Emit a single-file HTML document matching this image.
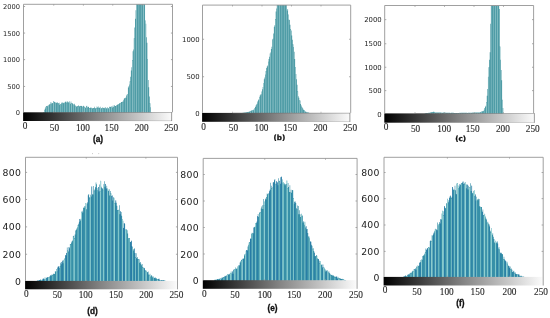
<!DOCTYPE html>
<html><head><meta charset="utf-8"><title>Histograms</title>
<style>html,body{margin:0;padding:0;background:#fff;}body{width:550px;height:318px;overflow:hidden;}svg{display:block;}</style>
</head><body>
<svg width="550" height="318" viewBox="0 0 550 318">
<defs>
<linearGradient id="g" x1="0" x2="1" y1="0" y2="0"><stop offset="0" stop-color="#000"/><stop offset="0.5" stop-color="#848484"/><stop offset="1" stop-color="#fbfbfb"/></linearGradient>
</defs>
<rect width="550" height="318" fill="#fff"/>
<clipPath id="ca"><rect x="23.5" y="4.3" width="149.0" height="109.3"/></clipPath>
<g clip-path="url(#ca)">
<path d="M43.56 113.6V112.11H44.15V110.37H44.74V108.72H45.33V107.35H45.92V105.99H46.51V105.96H47.10V106.35H47.69V105.47H48.28V105.44H48.87V104.52H49.46V104.28H50.05V103.79H50.64V102.09H51.23V103.60H51.82V103.15H52.41V103.09H53.00V101.38H53.59V101.29H54.18V101.88H54.77V102.15H55.36V102.68H55.95V102.38H56.54V102.97H57.13V102.26H57.72V103.14H58.31V103.36H58.90V102.75H59.49V104.65H60.08V103.97H60.67V104.34H61.26V102.86H61.85V102.61H62.44V102.73H63.03V102.75H63.62V103.15H64.21V102.70H64.80V102.01H65.39V101.47H65.98V101.66H66.57V102.88H67.16V101.15H67.75V102.00H68.34V102.39H68.93V101.17H69.52V102.61H70.11V103.81H70.70V101.59H71.29V103.10H71.88V103.51H72.47V103.30H73.06V104.51H73.65V104.41H74.24V103.75H74.83V105.58H75.42V105.75H76.01V106.21H76.60V106.67H77.19V106.09H77.78V106.04H78.37V105.27H78.96V106.54H79.55V105.90H80.14V106.10H80.73V105.72H81.32V106.00H81.91V106.36H82.50V107.50H83.09V105.65H83.68V106.05H84.27V107.10H84.86V107.85H85.45V107.43H86.04V106.11H86.63V105.85H87.22V107.51H87.81V106.99H88.40V106.81H88.99V107.98H89.58V108.07H90.17V107.58H90.76V107.65H91.35V107.78H91.94V108.42H92.53V107.92H93.12V107.89H93.71V107.93H94.30V106.83H94.89V108.37H95.48V108.20H96.07V107.94H96.66V106.58H97.25V107.27H97.84V108.04H98.43V106.58H99.02V107.43H99.61V108.06H100.20V106.82H100.79V108.43H101.38V107.89H101.97V107.54H102.56V107.83H103.15V108.03H103.74V107.78H104.33V108.36H104.92V107.44H105.51V107.60H106.10V108.40H106.69V107.90H107.28V107.37H107.87V108.18H108.46V108.31H109.05V107.12H109.64V106.44H110.23V106.97H110.82V106.81H111.41V106.56H112.00V107.41H112.59V105.81H113.18V107.03H113.77V105.34H114.36V105.43H114.95V106.03H115.54V106.06H116.13V105.60H116.72V104.97H117.31V104.55H117.90V104.26H118.49V104.27H119.08V103.28H119.67V103.14H120.26V102.88H120.85V101.96H121.44V102.09H122.03V101.46H122.62V102.19H123.21V100.22H123.80V98.81H124.39V98.10H124.98V97.67H125.57V97.81H126.16V95.41H126.75V94.40H127.34V94.25H127.93V87.62H128.52V86.25H129.11V84.49H129.70V81.31H130.29V76.83H130.88V70.61H131.47V67.15H132.06V60.06H132.65V51.21H133.24V49.61H133.83V38.18H134.42V27.53H135.01V18.70H135.60V10.34H136.19V1.86H136.78V-17.25H137.37V-11.29H137.96V-7.32H138.55V-13.11H139.14V-10.18H139.73V-7.47H140.32V-7.72H140.91V-6.04H141.50V-14.52H142.09V-10.94H142.68V-10.91H143.27V-8.34H143.86V-1.74H144.45V2.63H145.04V20.57H145.63V23.66H146.22V37.35H146.81V42.82H147.40V59.18H147.99V80.11H148.58V87.13H149.17V96.53H149.76V103.37H150.35V107.32H150.94V112.16H151.53V113.6Z" fill="#4f9ca6"/>
<rect x="44.15" y="110.77" width="0.6" height="3.23" fill="#b2d8dc" opacity="0.98"/>
<rect x="46.51" y="106.36" width="0.6" height="7.64" fill="#b2d8dc" opacity="0.78"/>
<rect x="48.28" y="105.84" width="0.6" height="8.16" fill="#b2d8dc" opacity="0.97"/>
<rect x="50.64" y="102.49" width="0.6" height="11.51" fill="#b2d8dc" opacity="1.00"/>
<rect x="53.00" y="101.78" width="0.6" height="12.22" fill="#b2d8dc" opacity="0.98"/>
<rect x="55.36" y="103.08" width="0.6" height="10.92" fill="#b2d8dc" opacity="0.75"/>
<rect x="57.72" y="103.54" width="0.6" height="10.46" fill="#b2d8dc" opacity="0.69"/>
<rect x="60.08" y="104.37" width="0.6" height="9.63" fill="#b2d8dc" opacity="0.69"/>
<rect x="61.85" y="103.01" width="0.6" height="10.99" fill="#b2d8dc" opacity="0.68"/>
<rect x="64.21" y="103.10" width="0.6" height="10.90" fill="#b2d8dc" opacity="0.68"/>
<rect x="66.57" y="103.28" width="0.6" height="10.72" fill="#b2d8dc" opacity="0.85"/>
<rect x="68.93" y="101.57" width="0.6" height="12.43" fill="#b2d8dc" opacity="0.96"/>
<rect x="71.29" y="103.50" width="0.6" height="10.50" fill="#b2d8dc" opacity="0.94"/>
<rect x="73.06" y="104.91" width="0.6" height="9.09" fill="#b2d8dc" opacity="0.79"/>
<rect x="75.42" y="106.15" width="0.6" height="7.85" fill="#b2d8dc" opacity="0.86"/>
<rect x="77.78" y="106.44" width="0.6" height="7.56" fill="#b2d8dc" opacity="0.92"/>
<rect x="80.14" y="106.50" width="0.6" height="7.50" fill="#b2d8dc" opacity="0.63"/>
<rect x="82.50" y="107.90" width="0.6" height="6.10" fill="#b2d8dc" opacity="0.86"/>
<rect x="84.27" y="107.50" width="0.6" height="6.50" fill="#b2d8dc" opacity="0.96"/>
<rect x="86.63" y="106.25" width="0.6" height="7.75" fill="#b2d8dc" opacity="0.91"/>
<rect x="88.99" y="108.38" width="0.6" height="5.62" fill="#b2d8dc" opacity="0.90"/>
<rect x="91.35" y="108.18" width="0.6" height="5.82" fill="#b2d8dc" opacity="0.79"/>
<rect x="93.71" y="108.33" width="0.6" height="5.67" fill="#b2d8dc" opacity="0.67"/>
<rect x="96.07" y="108.34" width="0.6" height="5.66" fill="#b2d8dc" opacity="0.92"/>
<rect x="97.84" y="108.44" width="0.6" height="5.56" fill="#b2d8dc" opacity="0.73"/>
<rect x="100.20" y="107.22" width="0.6" height="6.78" fill="#b2d8dc" opacity="0.92"/>
<rect x="102.56" y="108.23" width="0.6" height="5.77" fill="#b2d8dc" opacity="0.99"/>
<rect x="104.92" y="107.84" width="0.6" height="6.16" fill="#b2d8dc" opacity="0.76"/>
<rect x="107.28" y="107.77" width="0.6" height="6.23" fill="#b2d8dc" opacity="0.76"/>
<rect x="109.05" y="107.52" width="0.6" height="6.48" fill="#b2d8dc" opacity="0.98"/>
<rect x="111.41" y="106.96" width="0.6" height="7.04" fill="#b2d8dc" opacity="0.89"/>
<rect x="113.77" y="105.74" width="0.6" height="8.26" fill="#b2d8dc" opacity="0.67"/>
<rect x="116.13" y="106.00" width="0.6" height="8.00" fill="#b2d8dc" opacity="0.65"/>
<rect x="118.49" y="104.67" width="0.6" height="9.33" fill="#b2d8dc" opacity="0.66"/>
<rect x="120.26" y="103.28" width="0.6" height="10.72" fill="#b2d8dc" opacity="0.96"/>
<rect x="122.62" y="102.59" width="0.6" height="11.41" fill="#b2d8dc" opacity="0.92"/>
<rect x="124.98" y="98.07" width="0.6" height="15.93" fill="#b2d8dc" opacity="0.66"/>
<rect x="127.34" y="94.65" width="0.6" height="19.35" fill="#b2d8dc" opacity="0.93"/>
<rect x="129.70" y="81.71" width="0.6" height="32.29" fill="#b2d8dc" opacity="0.99"/>
<rect x="132.06" y="60.46" width="0.6" height="53.54" fill="#b2d8dc" opacity="0.86"/>
<rect x="133.83" y="38.58" width="0.6" height="75.42" fill="#b2d8dc" opacity="0.74"/>
<rect x="136.19" y="2.26" width="0.6" height="111.74" fill="#b2d8dc" opacity="0.82"/>
<rect x="138.55" y="-12.71" width="0.6" height="126.71" fill="#b2d8dc" opacity="0.65"/>
<rect x="140.91" y="-5.64" width="0.6" height="119.64" fill="#b2d8dc" opacity="0.61"/>
<rect x="143.27" y="-7.94" width="0.6" height="121.94" fill="#b2d8dc" opacity="0.99"/>
<rect x="145.04" y="20.97" width="0.6" height="93.03" fill="#b2d8dc" opacity="0.86"/>
<rect x="147.40" y="59.58" width="0.6" height="54.42" fill="#b2d8dc" opacity="0.81"/>
<rect x="149.76" y="103.77" width="0.6" height="10.23" fill="#b2d8dc" opacity="0.97"/>
</g>
<rect x="23.1" y="112.3" width="148.9" height="8.7" fill="url(#g)"/><rect x="53.5" y="112.2" width="118.5" height="0.7" fill="#666" opacity="0.6"/><rect x="83.5" y="120.5" width="88.5" height="0.6" fill="#999" opacity="0.6"/><rect x="171.3" y="112.3" width="0.8" height="8.7" fill="#666" opacity="0.8"/>
<path d="M23.5 112.3V4.3H172.5V112.3" fill="none" stroke="#959595" stroke-width="0.9"/>
<rect x="53.40" y="4.3" width="0.8" height="1.3" fill="#959595"/>
<rect x="53.40" y="111.1" width="0.8" height="1.3" fill="#959595" opacity="0.7"/>
<rect x="82.90" y="4.3" width="0.8" height="1.3" fill="#959595"/>
<rect x="82.90" y="111.1" width="0.8" height="1.3" fill="#959595" opacity="0.7"/>
<rect x="112.40" y="4.3" width="0.8" height="1.3" fill="#959595"/>
<rect x="112.40" y="111.1" width="0.8" height="1.3" fill="#959595" opacity="0.7"/>
<rect x="141.90" y="4.3" width="0.8" height="1.3" fill="#959595"/>
<rect x="141.90" y="111.1" width="0.8" height="1.3" fill="#959595" opacity="0.7"/>
<rect x="23.5" y="85.95" width="1.6" height="0.8" fill="#959595"/>
<rect x="170.9" y="85.95" width="1.6" height="0.8" fill="#959595"/>
<rect x="23.5" y="59.30" width="1.6" height="0.8" fill="#959595"/>
<rect x="170.9" y="59.30" width="1.6" height="0.8" fill="#959595"/>
<rect x="23.5" y="32.65" width="1.6" height="0.8" fill="#959595"/>
<rect x="170.9" y="32.65" width="1.6" height="0.8" fill="#959595"/>
<rect x="23.5" y="6.00" width="1.6" height="0.8" fill="#959595"/>
<rect x="170.9" y="6.00" width="1.6" height="0.8" fill="#959595"/>
<text x="20" y="9.34" text-anchor="end" font-family="'DejaVu Sans', sans-serif" font-size="6.7" fill="#222">2000</text>
<text x="20" y="35.84" text-anchor="end" font-family="'DejaVu Sans', sans-serif" font-size="6.7" fill="#222">1500</text>
<text x="20" y="61.94" text-anchor="end" font-family="'DejaVu Sans', sans-serif" font-size="6.7" fill="#222">1000</text>
<text x="20" y="88.94" text-anchor="end" font-family="'DejaVu Sans', sans-serif" font-size="6.7" fill="#222">500</text>
<text x="20" y="115.34" text-anchor="end" font-family="'DejaVu Sans', sans-serif" font-size="6.7" fill="#222">0</text>
<text x="25" y="129.14" text-anchor="middle" font-family="'Liberation Serif', serif" font-size="9.3" fill="#2a2a2a" stroke="#2a2a2a" stroke-width="0.12">0</text>
<text x="54.5" y="130.54" text-anchor="middle" font-family="'Liberation Serif', serif" font-size="9.3" fill="#2a2a2a" stroke="#2a2a2a" stroke-width="0.12">50</text>
<text x="82.9" y="130.54" text-anchor="middle" font-family="'Liberation Serif', serif" font-size="9.3" fill="#2a2a2a" stroke="#2a2a2a" stroke-width="0.12">100</text>
<text x="111.6" y="130.54" text-anchor="middle" font-family="'Liberation Serif', serif" font-size="9.3" fill="#2a2a2a" stroke="#2a2a2a" stroke-width="0.12">150</text>
<text x="141.7" y="130.54" text-anchor="middle" font-family="'Liberation Serif', serif" font-size="9.3" fill="#2a2a2a" stroke="#2a2a2a" stroke-width="0.12">200</text>
<text x="171.2" y="130.54" text-anchor="middle" font-family="'Liberation Serif', serif" font-size="9.3" fill="#2a2a2a" stroke="#2a2a2a" stroke-width="0.12">250</text>
<text x="98.0" y="142.09" text-anchor="middle" font-family="'Liberation Sans', sans-serif" font-weight="bold" font-size="8.3" fill="#111" stroke="#111" stroke-width="0.3">(a)</text>
<clipPath id="cb"><rect x="202.5" y="5.1" width="148.2" height="109.10000000000001"/></clipPath>
<g clip-path="url(#cb)">
<path d="M242.03 114.2V112.90H242.62V112.66H243.21V112.79H243.80V112.63H244.39V112.41H244.98V112.38H245.57V112.38H246.16V112.17H246.75V112.25H247.34V111.89H247.93V111.89H248.52V111.80H249.11V111.66H249.70V111.04H250.29V111.17H250.88V110.40H251.47V110.38H252.06V109.99H252.65V110.52H253.24V109.78H253.83V109.35H254.42V108.11H255.01V106.98H255.60V105.58H256.19V104.61H256.78V103.76H257.37V101.43H257.96V100.16H258.55V99.18H259.14V97.29H259.73V95.43H260.32V94.58H260.91V94.34H261.50V91.38H262.09V89.28H262.68V86.88H263.27V83.22H263.86V79.36H264.45V77.58H265.04V74.58H265.63V70.92H266.22V68.07H266.81V66.45H267.40V65.52H267.99V61.66H268.58V58.91H269.17V56.63H269.76V53.41H270.35V52.53H270.94V48.95H271.53V46.84H272.12V39.62H272.71V38.77H273.30V33.41H273.89V26.80H274.48V25.33H275.07V19.08H275.66V11.44H276.25V8.38H276.84V4.92H277.43V-4.62H278.02V-3.81H278.61V-3.86H279.20V-3.99H279.79V-4.50H280.38V-2.97H280.97V-4.00H281.56V-4.31H282.15V-8.17H282.74V-3.64H283.33V-3.01H283.92V-5.45H284.51V-5.71H285.10V-2.05H285.69V-5.80H286.28V3.44H286.87V10.52H287.46V8.99H288.05V14.55H288.64V19.45H289.23V20.00H289.82V24.75H290.41V29.03H291.00V30.56H291.59V35.44H292.18V39.75H292.77V44.22H293.36V47.06H293.95V51.76H294.54V58.99H295.13V66.91H295.72V73.94H296.31V79.13H296.90V84.77H297.49V91.29H298.08V96.17H298.67V97.82H299.26V100.13H299.85V100.59H300.44V104.05H301.03V105.62H301.62V107.17H302.21V107.84H302.80V108.82H303.39V110.10H303.98V110.01H304.57V111.15H305.16V111.46H305.75V111.76H306.34V112.32H306.93V112.53H307.52V112.29H308.11V112.56H308.70V112.82H309.29V112.90H309.88V114.2Z" fill="#4f9ca6"/>
<rect x="243.21" y="113.19" width="0.6" height="1.41" fill="#b2d8dc" opacity="0.88"/>
<rect x="245.57" y="112.78" width="0.6" height="1.82" fill="#b2d8dc" opacity="0.77"/>
<rect x="247.93" y="112.29" width="0.6" height="2.31" fill="#b2d8dc" opacity="0.63"/>
<rect x="250.29" y="111.57" width="0.6" height="3.03" fill="#b2d8dc" opacity="0.98"/>
<rect x="252.06" y="110.39" width="0.6" height="4.21" fill="#b2d8dc" opacity="0.85"/>
<rect x="254.42" y="108.51" width="0.6" height="6.09" fill="#b2d8dc" opacity="0.92"/>
<rect x="256.78" y="104.16" width="0.6" height="10.44" fill="#b2d8dc" opacity="0.63"/>
<rect x="259.14" y="97.69" width="0.6" height="16.91" fill="#b2d8dc" opacity="0.94"/>
<rect x="261.50" y="91.78" width="0.6" height="22.82" fill="#b2d8dc" opacity="0.63"/>
<rect x="263.27" y="83.62" width="0.6" height="30.98" fill="#b2d8dc" opacity="0.95"/>
<rect x="265.63" y="71.32" width="0.6" height="43.28" fill="#b2d8dc" opacity="0.78"/>
<rect x="267.99" y="62.06" width="0.6" height="52.54" fill="#b2d8dc" opacity="0.74"/>
<rect x="270.35" y="52.93" width="0.6" height="61.67" fill="#b2d8dc" opacity="0.82"/>
<rect x="272.71" y="39.17" width="0.6" height="75.43" fill="#b2d8dc" opacity="0.97"/>
<rect x="275.07" y="19.48" width="0.6" height="95.12" fill="#b2d8dc" opacity="0.71"/>
<rect x="276.84" y="5.32" width="0.6" height="109.28" fill="#b2d8dc" opacity="0.65"/>
<rect x="279.20" y="-3.59" width="0.6" height="118.19" fill="#b2d8dc" opacity="0.81"/>
<rect x="281.56" y="-3.91" width="0.6" height="118.51" fill="#b2d8dc" opacity="0.70"/>
<rect x="283.92" y="-5.05" width="0.6" height="119.65" fill="#b2d8dc" opacity="0.64"/>
<rect x="286.28" y="3.84" width="0.6" height="110.76" fill="#b2d8dc" opacity="0.66"/>
<rect x="288.05" y="14.95" width="0.6" height="99.65" fill="#b2d8dc" opacity="0.62"/>
<rect x="290.41" y="29.43" width="0.6" height="85.17" fill="#b2d8dc" opacity="0.68"/>
<rect x="292.77" y="44.62" width="0.6" height="69.98" fill="#b2d8dc" opacity="0.72"/>
<rect x="295.13" y="67.31" width="0.6" height="47.29" fill="#b2d8dc" opacity="0.72"/>
<rect x="297.49" y="91.69" width="0.6" height="22.91" fill="#b2d8dc" opacity="0.90"/>
<rect x="299.26" y="100.53" width="0.6" height="14.07" fill="#b2d8dc" opacity="0.72"/>
<rect x="301.62" y="107.57" width="0.6" height="7.03" fill="#b2d8dc" opacity="0.80"/>
<rect x="303.98" y="110.41" width="0.6" height="4.19" fill="#b2d8dc" opacity="0.67"/>
<rect x="306.34" y="112.72" width="0.6" height="1.88" fill="#b2d8dc" opacity="0.74"/>
<rect x="308.70" y="113.22" width="0.6" height="1.38" fill="#b2d8dc" opacity="0.61"/>
</g>
<rect x="202.1" y="112.9" width="148.1" height="8.9" fill="url(#g)"/><rect x="232.5" y="112.80000000000001" width="117.69999999999999" height="0.7" fill="#666" opacity="0.6"/><rect x="262.5" y="121.30000000000001" width="87.69999999999999" height="0.6" fill="#999" opacity="0.6"/><rect x="349.5" y="112.9" width="0.8" height="8.9" fill="#666" opacity="0.8"/>
<path d="M202.5 112.9V5.1H350.7V112.9" fill="none" stroke="#959595" stroke-width="0.9"/>
<rect x="232.10" y="5.1" width="0.8" height="1.3" fill="#959595"/>
<rect x="232.10" y="111.7" width="0.8" height="1.3" fill="#959595" opacity="0.7"/>
<rect x="261.60" y="5.1" width="0.8" height="1.3" fill="#959595"/>
<rect x="261.60" y="111.7" width="0.8" height="1.3" fill="#959595" opacity="0.7"/>
<rect x="291.10" y="5.1" width="0.8" height="1.3" fill="#959595"/>
<rect x="291.10" y="111.7" width="0.8" height="1.3" fill="#959595" opacity="0.7"/>
<rect x="320.60" y="5.1" width="0.8" height="1.3" fill="#959595"/>
<rect x="320.60" y="111.7" width="0.8" height="1.3" fill="#959595" opacity="0.7"/>
<rect x="202.5" y="38.80" width="1.6" height="0.8" fill="#959595"/>
<rect x="349.09999999999997" y="38.80" width="1.6" height="0.8" fill="#959595"/>
<rect x="202.5" y="76.40" width="1.6" height="0.8" fill="#959595"/>
<rect x="349.09999999999997" y="76.40" width="1.6" height="0.8" fill="#959595"/>
<text x="199.6" y="41.72" text-anchor="end" font-family="'DejaVu Sans', sans-serif" font-size="6.9" fill="#222">1000</text>
<text x="199.6" y="79.32" text-anchor="end" font-family="'DejaVu Sans', sans-serif" font-size="6.9" fill="#222">500</text>
<text x="199.6" y="116.32" text-anchor="end" font-family="'DejaVu Sans', sans-serif" font-size="6.9" fill="#222">0</text>
<text x="203.7" y="129.54" text-anchor="middle" font-family="'Liberation Serif', serif" font-size="9.3" fill="#2a2a2a" stroke="#2a2a2a" stroke-width="0.12">0</text>
<text x="233.4" y="130.94" text-anchor="middle" font-family="'Liberation Serif', serif" font-size="9.3" fill="#2a2a2a" stroke="#2a2a2a" stroke-width="0.12">50</text>
<text x="261.5" y="130.94" text-anchor="middle" font-family="'Liberation Serif', serif" font-size="9.3" fill="#2a2a2a" stroke="#2a2a2a" stroke-width="0.12">100</text>
<text x="290.2" y="130.94" text-anchor="middle" font-family="'Liberation Serif', serif" font-size="9.3" fill="#2a2a2a" stroke="#2a2a2a" stroke-width="0.12">150</text>
<text x="320.4" y="130.94" text-anchor="middle" font-family="'Liberation Serif', serif" font-size="9.3" fill="#2a2a2a" stroke="#2a2a2a" stroke-width="0.12">200</text>
<text x="350.2" y="130.94" text-anchor="middle" font-family="'Liberation Serif', serif" font-size="9.3" fill="#2a2a2a" stroke="#2a2a2a" stroke-width="0.12">250</text>
<text x="279.4" y="139.86" text-anchor="middle" font-family="'DejaVu Sans', sans-serif" font-weight="bold" font-size="7.2" fill="#111" stroke="#111" stroke-width="0.3">(b)</text>
<clipPath id="cc"><rect x="384.7" y="5.5" width="148.90000000000003" height="109.0"/></clipPath>
<g clip-path="url(#cc)">
<path d="M424.82 114.5V113.20H425.41V113.20H426.00V113.11H426.59V112.98H427.18V112.97H427.77V112.92H428.36V112.81H428.95V112.70H429.54V112.65H430.13V112.43H430.72V112.21H431.31V112.18H431.90V111.95H432.49V111.91H433.08V111.80H433.67V111.83H434.26V112.09H434.85V112.40H435.44V112.41H436.03V112.42H436.62V112.46H437.21V112.55H437.80V112.55H438.39V112.54H438.98V112.62H439.57V112.58H440.16V112.55H440.75V112.59H441.34V112.66H441.93V112.63H442.52V112.63H443.11V112.52H443.70V112.58H444.29V112.64H444.88V112.59H445.47V112.68H446.06V112.67H446.65V112.71H447.24V112.66H447.83V112.83H448.42V112.78H449.01V112.72H449.60V112.75H450.19V112.90H450.78V112.76H451.37V112.84H451.96V112.87H452.55V112.84H453.14V112.80H453.73V112.88H454.32V112.91H454.91V112.95H455.50V112.93H456.09V112.89H456.68V112.93H457.27V112.91H457.86V112.89H458.45V112.88H459.04V112.86H459.63V112.90H460.22V112.81H460.81V112.83H461.40V112.86H461.99V112.78H462.58V112.83H463.17V112.75H463.76V112.81H464.35V112.86H464.94V112.86H465.53V112.83H466.12V112.81H466.71V112.75H467.30V112.91H467.89V112.84H468.48V112.86H469.07V112.76H469.66V112.79H470.25V112.68H470.84V112.78H471.43V112.76H472.02V112.58H472.61V112.65H473.20V112.66H473.79V112.50H474.38V112.46H474.97V112.47H475.56V112.47H476.15V112.39H476.74V112.45H477.33V112.43H477.92V112.43H478.51V112.40H479.10V112.43H479.69V112.38H480.28V111.99H480.87V111.83H481.46V111.56H482.05V111.34H482.64V111.20H483.23V110.94H483.82V109.69H484.41V108.11H485.00V106.82H485.59V105.70H486.18V102.01H486.77V95.65H487.36V88.88H487.95V76.82H488.54V67.35H489.13V59.84H489.72V52.27H490.31V23.87H490.90V-20.12H491.49V-21.89H492.08V-20.68H492.67V-19.97H493.26V-21.04H493.85V-19.86H494.44V-19.90H495.03V-20.95H495.62V-20.17H496.21V-20.22H496.80V-19.68H497.39V-19.58H497.98V-20.03H498.57V-20.59H499.16V8.91H499.75V46.47H500.34V59.77H500.93V69.97H501.52V80.25H502.11V99.77H502.70V107.88H503.29V114.5Z" fill="#4f9ca6"/>
<rect x="425.41" y="113.60" width="0.6" height="1.30" fill="#b2d8dc" opacity="0.81"/>
<rect x="427.77" y="113.32" width="0.6" height="1.58" fill="#b2d8dc" opacity="0.79"/>
<rect x="430.13" y="112.83" width="0.6" height="2.07" fill="#b2d8dc" opacity="0.79"/>
<rect x="432.49" y="112.31" width="0.6" height="2.59" fill="#b2d8dc" opacity="0.65"/>
<rect x="434.26" y="112.49" width="0.6" height="2.41" fill="#b2d8dc" opacity="0.96"/>
<rect x="436.62" y="112.86" width="0.6" height="2.04" fill="#b2d8dc" opacity="0.68"/>
<rect x="438.98" y="113.02" width="0.6" height="1.88" fill="#b2d8dc" opacity="0.99"/>
<rect x="441.34" y="113.06" width="0.6" height="1.84" fill="#b2d8dc" opacity="0.97"/>
<rect x="443.70" y="112.98" width="0.6" height="1.92" fill="#b2d8dc" opacity="0.61"/>
<rect x="445.47" y="113.08" width="0.6" height="1.82" fill="#b2d8dc" opacity="0.78"/>
<rect x="447.83" y="113.23" width="0.6" height="1.67" fill="#b2d8dc" opacity="0.93"/>
<rect x="450.19" y="113.30" width="0.6" height="1.60" fill="#b2d8dc" opacity="0.99"/>
<rect x="452.55" y="113.24" width="0.6" height="1.66" fill="#b2d8dc" opacity="0.78"/>
<rect x="454.91" y="113.35" width="0.6" height="1.55" fill="#b2d8dc" opacity="0.71"/>
<rect x="457.27" y="113.31" width="0.6" height="1.59" fill="#b2d8dc" opacity="0.68"/>
<rect x="459.04" y="113.26" width="0.6" height="1.64" fill="#b2d8dc" opacity="0.98"/>
<rect x="461.40" y="113.26" width="0.6" height="1.64" fill="#b2d8dc" opacity="0.68"/>
<rect x="463.76" y="113.21" width="0.6" height="1.69" fill="#b2d8dc" opacity="0.83"/>
<rect x="466.12" y="113.21" width="0.6" height="1.69" fill="#b2d8dc" opacity="0.66"/>
<rect x="468.48" y="113.26" width="0.6" height="1.64" fill="#b2d8dc" opacity="0.81"/>
<rect x="470.25" y="113.08" width="0.6" height="1.82" fill="#b2d8dc" opacity="0.98"/>
<rect x="472.61" y="113.05" width="0.6" height="1.85" fill="#b2d8dc" opacity="0.65"/>
<rect x="474.97" y="112.87" width="0.6" height="2.03" fill="#b2d8dc" opacity="0.93"/>
<rect x="477.33" y="112.83" width="0.6" height="2.07" fill="#b2d8dc" opacity="0.80"/>
<rect x="479.69" y="112.78" width="0.6" height="2.12" fill="#b2d8dc" opacity="0.95"/>
<rect x="481.46" y="111.96" width="0.6" height="2.94" fill="#b2d8dc" opacity="0.88"/>
<rect x="483.82" y="110.09" width="0.6" height="4.81" fill="#b2d8dc" opacity="0.69"/>
<rect x="486.18" y="102.41" width="0.6" height="12.49" fill="#b2d8dc" opacity="0.96"/>
<rect x="488.54" y="67.75" width="0.6" height="47.15" fill="#b2d8dc" opacity="0.79"/>
<rect x="490.90" y="-19.72" width="0.6" height="134.62" fill="#b2d8dc" opacity="0.61"/>
<rect x="493.26" y="-20.64" width="0.6" height="135.54" fill="#b2d8dc" opacity="0.60"/>
<rect x="495.03" y="-20.55" width="0.6" height="135.45" fill="#b2d8dc" opacity="0.80"/>
<rect x="497.39" y="-19.18" width="0.6" height="134.08" fill="#b2d8dc" opacity="0.78"/>
<rect x="499.75" y="46.87" width="0.6" height="68.03" fill="#b2d8dc" opacity="0.72"/>
<rect x="502.11" y="100.17" width="0.6" height="14.73" fill="#b2d8dc" opacity="0.66"/>
</g>
<rect x="384.3" y="113.4" width="150.30000000000004" height="9.3" fill="url(#g)"/><rect x="414.7" y="113.30000000000001" width="119.90000000000003" height="0.7" fill="#666" opacity="0.6"/><rect x="444.7" y="122.2" width="89.90000000000003" height="0.6" fill="#999" opacity="0.6"/><rect x="533.9" y="113.4" width="0.8" height="9.3" fill="#666" opacity="0.8"/>
<path d="M384.7 113.2V5.5H533.6V113.2" fill="none" stroke="#959595" stroke-width="0.9"/>
<rect x="414.60" y="5.5" width="0.8" height="1.3" fill="#959595"/>
<rect x="414.60" y="112.0" width="0.8" height="1.3" fill="#959595" opacity="0.7"/>
<rect x="444.10" y="5.5" width="0.8" height="1.3" fill="#959595"/>
<rect x="444.10" y="112.0" width="0.8" height="1.3" fill="#959595" opacity="0.7"/>
<rect x="473.60" y="5.5" width="0.8" height="1.3" fill="#959595"/>
<rect x="473.60" y="112.0" width="0.8" height="1.3" fill="#959595" opacity="0.7"/>
<rect x="503.10" y="5.5" width="0.8" height="1.3" fill="#959595"/>
<rect x="503.10" y="112.0" width="0.8" height="1.3" fill="#959595" opacity="0.7"/>
<rect x="384.7" y="19.30" width="1.6" height="0.8" fill="#959595"/>
<rect x="532.0" y="19.30" width="1.6" height="0.8" fill="#959595"/>
<rect x="384.7" y="43.40" width="1.6" height="0.8" fill="#959595"/>
<rect x="532.0" y="43.40" width="1.6" height="0.8" fill="#959595"/>
<rect x="384.7" y="66.80" width="1.6" height="0.8" fill="#959595"/>
<rect x="532.0" y="66.80" width="1.6" height="0.8" fill="#959595"/>
<rect x="384.7" y="90.30" width="1.6" height="0.8" fill="#959595"/>
<rect x="532.0" y="90.30" width="1.6" height="0.8" fill="#959595"/>
<text x="381.7" y="22.22" text-anchor="end" font-family="'DejaVu Sans', sans-serif" font-size="6.9" fill="#222">2000</text>
<text x="381.7" y="46.32" text-anchor="end" font-family="'DejaVu Sans', sans-serif" font-size="6.9" fill="#222">1500</text>
<text x="381.7" y="69.72" text-anchor="end" font-family="'DejaVu Sans', sans-serif" font-size="6.9" fill="#222">1000</text>
<text x="381.7" y="93.22" text-anchor="end" font-family="'DejaVu Sans', sans-serif" font-size="6.9" fill="#222">500</text>
<text x="381.7" y="116.82" text-anchor="end" font-family="'DejaVu Sans', sans-serif" font-size="6.9" fill="#222">0</text>
<text x="386" y="130.34" text-anchor="middle" font-family="'Liberation Serif', serif" font-size="9.3" fill="#2a2a2a" stroke="#2a2a2a" stroke-width="0.12">0</text>
<text x="415.6" y="131.64" text-anchor="middle" font-family="'Liberation Serif', serif" font-size="9.3" fill="#2a2a2a" stroke="#2a2a2a" stroke-width="0.12">50</text>
<text x="444.2" y="131.64" text-anchor="middle" font-family="'Liberation Serif', serif" font-size="9.3" fill="#2a2a2a" stroke="#2a2a2a" stroke-width="0.12">100</text>
<text x="472.7" y="131.64" text-anchor="middle" font-family="'Liberation Serif', serif" font-size="9.3" fill="#2a2a2a" stroke="#2a2a2a" stroke-width="0.12">150</text>
<text x="502.9" y="131.64" text-anchor="middle" font-family="'Liberation Serif', serif" font-size="9.3" fill="#2a2a2a" stroke="#2a2a2a" stroke-width="0.12">200</text>
<text x="532.8" y="131.64" text-anchor="middle" font-family="'Liberation Serif', serif" font-size="9.3" fill="#2a2a2a" stroke="#2a2a2a" stroke-width="0.12">250</text>
<text x="460.7" y="140.76" text-anchor="middle" font-family="'DejaVu Sans', sans-serif" font-weight="bold" font-size="7.2" fill="#111" stroke="#111" stroke-width="0.3">(c)</text>
<clipPath id="cd"><rect x="25.5" y="157.3" width="152.0" height="124.89999999999998"/></clipPath>
<g clip-path="url(#cd)">
<path d="M36.90 282.2V280.47H37.50V280.43H38.10V280.63H38.70V280.35H39.30V280.22H39.90V280.11H40.50V279.36H41.10V280.40H41.70V280.24H42.30V279.32H42.90V278.50H43.50V279.04H44.10V279.34H44.70V277.39H45.30V279.56H45.90V277.80H46.50V277.67H47.10V277.24H47.70V277.52H48.30V277.25H48.90V276.72H49.50V276.52H50.10V275.37H50.70V275.91H51.30V274.75H51.90V274.40H52.50V274.91H53.10V273.74H53.70V273.64H54.30V274.02H54.90V271.16H55.50V271.50H56.10V269.07H56.70V271.61H57.30V267.59H57.90V266.45H58.50V266.70H59.10V268.09H59.70V266.04H60.30V262.65H60.90V264.18H61.50V261.93H62.10V260.68H62.70V263.32H63.30V260.26H63.90V259.27H64.50V258.14H65.10V255.08H65.70V255.55H66.30V252.92H66.90V247.60H67.50V250.38H68.10V251.53H68.70V247.05H69.30V248.35H69.90V243.96H70.50V243.96H71.10V242.43H71.70V241.30H72.30V240.50H72.90V235.82H73.50V236.27H74.10V238.12H74.70V234.45H75.30V230.55H75.90V229.83H76.50V228.38H77.10V227.33H77.70V225.10H78.30V223.76H78.90V221.64H79.50V218.96H80.10V220.51H80.70V218.87H81.30V211.76H81.90V210.66H82.50V212.55H83.10V207.38H83.70V207.90H84.30V206.34H84.90V206.17H85.50V202.89H86.10V209.33H86.70V203.57H87.30V202.36H87.90V195.37H88.50V193.98H89.10V197.17H89.70V197.76H90.30V194.71H90.90V196.48H91.50V186.49H92.10V194.31H92.70V194.52H93.30V186.01H93.90V190.63H94.50V189.43H95.10V187.32H95.70V182.59H96.30V184.26H96.90V188.21H97.50V190.10H98.10V187.06H98.70V191.60H99.30V184.42H99.90V191.32H100.50V180.68H101.10V186.65H101.70V188.02H102.30V188.68H102.90V189.69H103.50V184.27H104.10V181.18H104.70V186.85H105.30V183.92H105.90V188.59H106.50V185.70H107.10V188.54H107.70V189.62H108.30V190.92H108.90V189.25H109.50V195.43H110.10V190.90H110.70V193.20H111.30V195.93H111.90V195.55H112.50V200.42H113.10V197.32H113.70V197.66H114.30V202.95H114.90V202.66H115.50V200.38H116.10V202.66H116.70V205.86H117.30V210.04H117.90V210.23H118.50V209.75H119.10V205.17H119.70V214.13H120.30V211.17H120.90V211.94H121.50V215.70H122.10V219.24H122.70V220.71H123.30V227.90H123.90V223.35H124.50V223.75H125.10V229.65H125.70V229.16H126.30V229.48H126.90V230.21H127.50V233.59H128.10V238.25H128.70V238.17H129.30V237.91H129.90V241.75H130.50V242.00H131.10V240.79H131.70V245.94H132.30V247.13H132.90V250.44H133.50V248.89H134.10V248.51H134.70V252.93H135.30V257.01H135.90V253.34H136.50V258.17H137.10V257.00H137.70V259.05H138.30V259.30H138.90V259.24H139.50V262.87H140.10V262.04H140.70V263.82H141.30V265.23H141.90V263.91H142.50V267.12H143.10V267.73H143.70V267.80H144.30V268.22H144.90V269.96H145.50V270.78H146.10V270.87H146.70V271.91H147.30V272.34H147.90V271.43H148.50V274.48H149.10V274.88H149.70V273.63H150.30V276.61H150.90V275.36H151.50V275.61H152.10V276.58H152.70V277.55H153.30V276.57H153.90V278.12H154.50V277.77H155.10V277.54H155.70V278.52H156.30V278.30H156.90V278.93H157.50V279.26H158.10V279.12H158.70V278.72H159.30V280.25H159.90V280.32H160.50V280.44H161.10V280.04H161.70V280.37H162.30V280.45H162.90V279.88H163.50V280.36H164.10V280.57H164.70V280.41H165.30V282.2Z" fill="#3790a8"/>
<rect x="37.50" y="280.93" width="0.65" height="1.77" fill="#b0e6e0" opacity="0.79"/>
<rect x="38.10" y="281.13" width="0.65" height="1.57" fill="#b0e6e0" opacity="0.79"/>
<rect x="38.70" y="280.35" width="0.65" height="1.85" fill="#2272a6" opacity="0.91"/>
<rect x="39.30" y="280.22" width="0.65" height="1.98" fill="#2272a6" opacity="0.91"/>
<rect x="41.10" y="280.90" width="0.65" height="1.80" fill="#b0e6e0" opacity="0.71"/>
<rect x="41.70" y="280.74" width="0.65" height="1.96" fill="#b0e6e0" opacity="0.71"/>
<rect x="42.90" y="278.50" width="0.65" height="3.70" fill="#2272a6" opacity="0.93"/>
<rect x="43.50" y="279.04" width="0.65" height="3.16" fill="#2272a6" opacity="0.93"/>
<rect x="44.70" y="277.89" width="0.65" height="4.81" fill="#b0e6e0" opacity="0.83"/>
<rect x="45.30" y="280.06" width="0.65" height="2.64" fill="#b0e6e0" opacity="0.83"/>
<rect x="47.10" y="277.24" width="0.65" height="4.96" fill="#2272a6" opacity="0.85"/>
<rect x="48.30" y="277.75" width="0.65" height="4.95" fill="#b0e6e0" opacity="0.93"/>
<rect x="48.90" y="277.22" width="0.65" height="5.48" fill="#b0e6e0" opacity="0.93"/>
<rect x="50.10" y="275.37" width="0.65" height="6.83" fill="#2272a6" opacity="0.63"/>
<rect x="52.50" y="275.41" width="0.65" height="7.29" fill="#b0e6e0" opacity="0.76"/>
<rect x="56.10" y="269.57" width="0.65" height="13.13" fill="#b0e6e0" opacity="0.71"/>
<rect x="56.70" y="272.11" width="0.65" height="10.59" fill="#b0e6e0" opacity="0.71"/>
<rect x="57.90" y="266.45" width="0.65" height="15.75" fill="#2272a6" opacity="0.89"/>
<rect x="58.50" y="266.70" width="0.65" height="15.50" fill="#2272a6" opacity="0.89"/>
<rect x="59.70" y="266.54" width="0.65" height="16.16" fill="#b0e6e0" opacity="0.73"/>
<rect x="61.50" y="261.93" width="0.65" height="20.27" fill="#2272a6" opacity="0.67"/>
<rect x="62.10" y="260.68" width="0.65" height="21.52" fill="#2272a6" opacity="0.67"/>
<rect x="63.90" y="259.77" width="0.65" height="22.93" fill="#b0e6e0" opacity="0.89"/>
<rect x="64.50" y="258.64" width="0.65" height="24.06" fill="#b0e6e0" opacity="0.89"/>
<rect x="65.70" y="255.55" width="0.65" height="26.65" fill="#2272a6" opacity="0.78"/>
<rect x="66.30" y="252.92" width="0.65" height="29.28" fill="#2272a6" opacity="0.78"/>
<rect x="67.50" y="250.88" width="0.65" height="31.82" fill="#b0e6e0" opacity="0.79"/>
<rect x="68.70" y="247.05" width="0.65" height="35.15" fill="#2272a6" opacity="0.55"/>
<rect x="69.30" y="248.35" width="0.65" height="33.85" fill="#2272a6" opacity="0.55"/>
<rect x="70.50" y="244.46" width="0.65" height="38.24" fill="#b0e6e0" opacity="0.75"/>
<rect x="73.50" y="236.77" width="0.65" height="45.93" fill="#b0e6e0" opacity="0.82"/>
<rect x="74.10" y="238.62" width="0.65" height="44.08" fill="#b0e6e0" opacity="0.82"/>
<rect x="77.70" y="225.60" width="0.65" height="57.10" fill="#b0e6e0" opacity="0.94"/>
<rect x="79.50" y="218.96" width="0.65" height="63.24" fill="#2272a6" opacity="0.69"/>
<rect x="81.30" y="212.26" width="0.65" height="70.44" fill="#b0e6e0" opacity="0.97"/>
<rect x="82.50" y="212.55" width="0.65" height="69.65" fill="#2272a6" opacity="0.54"/>
<rect x="85.50" y="203.39" width="0.65" height="79.31" fill="#b0e6e0" opacity="0.98"/>
<rect x="87.90" y="195.37" width="0.65" height="86.83" fill="#2272a6" opacity="0.58"/>
<rect x="89.70" y="198.26" width="0.65" height="84.44" fill="#b0e6e0" opacity="0.73"/>
<rect x="90.30" y="195.21" width="0.65" height="87.49" fill="#b0e6e0" opacity="0.73"/>
<rect x="91.50" y="186.49" width="0.65" height="95.71" fill="#2272a6" opacity="0.63"/>
<rect x="93.90" y="191.13" width="0.65" height="91.57" fill="#b0e6e0" opacity="0.78"/>
<rect x="95.10" y="187.32" width="0.65" height="94.88" fill="#2272a6" opacity="0.46"/>
<rect x="96.90" y="188.71" width="0.65" height="93.99" fill="#b0e6e0" opacity="0.76"/>
<rect x="98.10" y="187.06" width="0.65" height="95.14" fill="#2272a6" opacity="0.72"/>
<rect x="98.70" y="191.60" width="0.65" height="90.60" fill="#2272a6" opacity="0.72"/>
<rect x="99.90" y="191.82" width="0.65" height="90.88" fill="#b0e6e0" opacity="0.82"/>
<rect x="100.50" y="181.18" width="0.65" height="101.52" fill="#b0e6e0" opacity="0.82"/>
<rect x="101.70" y="188.02" width="0.65" height="94.18" fill="#2272a6" opacity="0.53"/>
<rect x="102.90" y="190.19" width="0.65" height="92.51" fill="#b0e6e0" opacity="0.78"/>
<rect x="103.50" y="184.77" width="0.65" height="97.93" fill="#b0e6e0" opacity="0.78"/>
<rect x="105.30" y="183.92" width="0.65" height="98.28" fill="#2272a6" opacity="0.73"/>
<rect x="105.90" y="188.59" width="0.65" height="93.61" fill="#2272a6" opacity="0.73"/>
<rect x="107.10" y="189.04" width="0.65" height="93.66" fill="#b0e6e0" opacity="0.96"/>
<rect x="110.70" y="193.70" width="0.65" height="89.00" fill="#b0e6e0" opacity="0.92"/>
<rect x="111.30" y="195.93" width="0.65" height="86.27" fill="#2272a6" opacity="0.66"/>
<rect x="111.90" y="195.55" width="0.65" height="86.65" fill="#2272a6" opacity="0.66"/>
<rect x="113.70" y="198.16" width="0.65" height="84.54" fill="#b0e6e0" opacity="0.96"/>
<rect x="114.30" y="203.45" width="0.65" height="79.25" fill="#b0e6e0" opacity="0.96"/>
<rect x="115.50" y="200.38" width="0.65" height="81.82" fill="#2272a6" opacity="0.73"/>
<rect x="117.90" y="210.73" width="0.65" height="71.97" fill="#b0e6e0" opacity="0.73"/>
<rect x="118.50" y="210.25" width="0.65" height="72.45" fill="#b0e6e0" opacity="0.73"/>
<rect x="119.70" y="214.13" width="0.65" height="68.07" fill="#2272a6" opacity="0.52"/>
<rect x="120.30" y="211.17" width="0.65" height="71.03" fill="#2272a6" opacity="0.52"/>
<rect x="122.10" y="219.74" width="0.65" height="62.96" fill="#b0e6e0" opacity="0.98"/>
<rect x="123.30" y="227.90" width="0.65" height="54.30" fill="#2272a6" opacity="0.93"/>
<rect x="123.90" y="223.35" width="0.65" height="58.85" fill="#2272a6" opacity="0.93"/>
<rect x="125.10" y="230.15" width="0.65" height="52.55" fill="#b0e6e0" opacity="0.98"/>
<rect x="125.70" y="229.66" width="0.65" height="53.04" fill="#b0e6e0" opacity="0.98"/>
<rect x="128.70" y="238.67" width="0.65" height="44.03" fill="#b0e6e0" opacity="0.98"/>
<rect x="130.50" y="242.00" width="0.65" height="40.20" fill="#2272a6" opacity="0.86"/>
<rect x="131.10" y="240.79" width="0.65" height="41.41" fill="#2272a6" opacity="0.86"/>
<rect x="132.30" y="247.63" width="0.65" height="35.07" fill="#b0e6e0" opacity="0.77"/>
<rect x="134.10" y="248.51" width="0.65" height="33.69" fill="#2272a6" opacity="0.54"/>
<rect x="134.70" y="252.93" width="0.65" height="29.27" fill="#2272a6" opacity="0.54"/>
<rect x="135.30" y="257.51" width="0.65" height="25.19" fill="#b0e6e0" opacity="0.86"/>
<rect x="136.50" y="258.17" width="0.65" height="24.03" fill="#2272a6" opacity="0.81"/>
<rect x="138.30" y="259.80" width="0.65" height="22.90" fill="#b0e6e0" opacity="0.87"/>
<rect x="142.50" y="267.62" width="0.65" height="15.08" fill="#b0e6e0" opacity="0.74"/>
<rect x="143.10" y="268.23" width="0.65" height="14.47" fill="#b0e6e0" opacity="0.74"/>
<rect x="144.30" y="268.22" width="0.65" height="13.98" fill="#2272a6" opacity="0.60"/>
<rect x="145.50" y="271.28" width="0.65" height="11.42" fill="#b0e6e0" opacity="0.83"/>
<rect x="146.10" y="271.37" width="0.65" height="11.33" fill="#b0e6e0" opacity="0.83"/>
<rect x="147.30" y="272.34" width="0.65" height="9.86" fill="#2272a6" opacity="0.46"/>
<rect x="149.10" y="275.38" width="0.65" height="7.32" fill="#b0e6e0" opacity="0.77"/>
<rect x="149.70" y="274.13" width="0.65" height="8.57" fill="#b0e6e0" opacity="0.77"/>
<rect x="153.30" y="277.07" width="0.65" height="5.63" fill="#b0e6e0" opacity="0.75"/>
<rect x="154.50" y="277.77" width="0.65" height="4.43" fill="#2272a6" opacity="0.67"/>
<rect x="156.90" y="279.43" width="0.65" height="3.27" fill="#b0e6e0" opacity="0.85"/>
<rect x="157.50" y="279.76" width="0.65" height="2.94" fill="#b0e6e0" opacity="0.85"/>
<rect x="158.70" y="278.72" width="0.65" height="3.48" fill="#2272a6" opacity="0.82"/>
<rect x="159.90" y="280.82" width="0.65" height="1.88" fill="#b0e6e0" opacity="0.72"/>
<rect x="160.50" y="280.94" width="0.65" height="1.76" fill="#b0e6e0" opacity="0.72"/>
<rect x="161.70" y="280.37" width="0.65" height="1.83" fill="#2272a6" opacity="0.52"/>
<rect x="162.30" y="280.45" width="0.65" height="1.75" fill="#2272a6" opacity="0.52"/>
<rect x="164.10" y="281.07" width="0.65" height="1.63" fill="#b0e6e0" opacity="0.92"/>
<rect x="164.70" y="280.91" width="0.65" height="1.79" fill="#b0e6e0" opacity="0.92"/>
</g>
<rect x="25.1" y="280.9" width="151.8" height="8.4" fill="url(#g)"/>
<path d="M25.5 280.9V157.3H177.5V289.29999999999995" fill="none" stroke="#959595" stroke-width="0.9"/>
<rect x="85.80" y="157.3" width="0.8" height="1.3" fill="#959595"/>
<rect x="85.80" y="279.7" width="0.8" height="1.3" fill="#959595" opacity="0.7"/>
<rect x="145.50" y="157.3" width="0.8" height="1.3" fill="#959595"/>
<rect x="145.50" y="279.7" width="0.8" height="1.3" fill="#959595" opacity="0.7"/>
<rect x="25.5" y="253.80" width="1.6" height="0.8" fill="#959595"/>
<rect x="175.9" y="253.80" width="1.6" height="0.8" fill="#959595"/>
<rect x="25.5" y="226.50" width="1.6" height="0.8" fill="#959595"/>
<rect x="175.9" y="226.50" width="1.6" height="0.8" fill="#959595"/>
<rect x="25.5" y="199.20" width="1.6" height="0.8" fill="#959595"/>
<rect x="175.9" y="199.20" width="1.6" height="0.8" fill="#959595"/>
<rect x="25.5" y="171.90" width="1.6" height="0.8" fill="#959595"/>
<rect x="175.9" y="171.90" width="1.6" height="0.8" fill="#959595"/>
<text letter-spacing="0.3" x="21.2" y="175.69" text-anchor="end" font-family="'DejaVu Sans', sans-serif" font-size="9.3" fill="#222">800</text>
<text letter-spacing="0.3" x="21.2" y="202.99" text-anchor="end" font-family="'DejaVu Sans', sans-serif" font-size="9.3" fill="#222">600</text>
<text letter-spacing="0.3" x="21.2" y="230.29" text-anchor="end" font-family="'DejaVu Sans', sans-serif" font-size="9.3" fill="#222">400</text>
<text letter-spacing="0.3" x="21.2" y="257.59" text-anchor="end" font-family="'DejaVu Sans', sans-serif" font-size="9.3" fill="#222">200</text>
<text letter-spacing="0.3" x="21.2" y="285.39" text-anchor="end" font-family="'DejaVu Sans', sans-serif" font-size="9.3" fill="#222">0</text>
<text x="26.4" y="297.14" text-anchor="middle" font-family="'Liberation Serif', serif" font-size="9.3" fill="#2a2a2a" stroke="#2a2a2a" stroke-width="0.12">0</text>
<text x="57.3" y="298.44" text-anchor="middle" font-family="'Liberation Serif', serif" font-size="9.3" fill="#2a2a2a" stroke="#2a2a2a" stroke-width="0.12">50</text>
<text x="85.7" y="298.44" text-anchor="middle" font-family="'Liberation Serif', serif" font-size="9.3" fill="#2a2a2a" stroke="#2a2a2a" stroke-width="0.12">100</text>
<text x="115.9" y="298.44" text-anchor="middle" font-family="'Liberation Serif', serif" font-size="9.3" fill="#2a2a2a" stroke="#2a2a2a" stroke-width="0.12">150</text>
<text x="146.3" y="298.44" text-anchor="middle" font-family="'Liberation Serif', serif" font-size="9.3" fill="#2a2a2a" stroke="#2a2a2a" stroke-width="0.12">200</text>
<text x="176.4" y="298.44" text-anchor="middle" font-family="'Liberation Serif', serif" font-size="9.3" fill="#2a2a2a" stroke="#2a2a2a" stroke-width="0.12">250</text>
<text x="92.5" y="313.99" text-anchor="middle" font-family="'Liberation Sans', sans-serif" font-weight="bold" font-size="8.3" fill="#111" stroke="#111" stroke-width="0.3">(d)</text>
<rect x="92" y="153.2" width="1" height="0.9" fill="#c4c4c4"/><rect x="98.2" y="153.2" width="1" height="0.9" fill="#c4c4c4"/>
<clipPath id="ce"><rect x="203.2" y="158.4" width="153.90000000000003" height="123.1"/></clipPath>
<g clip-path="url(#ce)">
<path d="M214.60 281.5V279.78H215.20V279.81H215.80V279.75H216.40V279.54H217.00V279.11H217.60V279.05H218.20V279.38H218.80V278.78H219.40V278.74H220.00V278.52H220.60V278.43H221.20V278.61H221.80V277.47H222.40V277.77H223.00V277.11H223.60V277.14H224.20V276.59H224.80V275.84H225.40V276.17H226.00V275.13H226.60V276.54H227.20V274.30H227.80V274.42H228.40V274.58H229.00V273.70H229.60V274.62H230.20V273.09H230.80V271.60H231.40V273.25H232.00V271.50H232.60V273.80H233.20V269.70H233.80V269.41H234.40V269.29H235.00V267.48H235.60V268.67H236.20V268.84H236.80V268.55H237.40V266.62H238.00V265.33H238.60V266.31H239.20V265.26H239.80V262.55H240.40V261.17H241.00V259.80H241.60V260.12H242.20V258.81H242.80V258.95H243.40V258.42H244.00V254.30H244.60V255.50H245.20V253.72H245.80V250.87H246.40V250.02H247.00V250.38H247.60V246.43H248.20V244.63H248.80V242.40H249.40V241.91H250.00V238.71H250.60V238.83H251.20V233.73H251.80V232.83H252.40V233.13H253.00V233.27H253.60V227.60H254.20V227.07H254.80V226.57H255.40V222.95H256.00V222.69H256.60V221.44H257.20V216.17H257.80V214.11H258.40V216.66H259.00V212.37H259.60V213.19H260.20V212.11H260.80V208.39H261.40V206.39H262.00V205.36H262.60V208.95H263.20V199.04H263.80V205.27H264.40V201.58H265.00V198.40H265.60V199.58H266.20V197.06H266.80V193.53H267.40V194.37H268.00V193.69H268.60V193.26H269.20V191.22H269.80V189.64H270.40V182.72H271.00V185.82H271.60V188.10H272.20V187.51H272.80V182.54H273.40V182.15H274.00V180.25H274.60V178.95H275.20V183.63H275.80V184.18H276.40V181.34H277.00V182.40H277.60V185.32H278.20V178.13H278.80V181.20H279.40V180.87H280.00V183.82H280.60V177.28H281.20V176.69H281.80V182.44H282.40V179.53H283.00V182.19H283.60V183.42H284.20V183.58H284.80V185.33H285.40V183.96H286.00V183.91H286.60V180.43H287.20V188.20H287.80V182.91H288.40V187.12H289.00V192.07H289.60V185.14H290.20V192.60H290.80V189.68H291.40V192.78H292.00V190.01H292.60V190.29H293.20V198.09H293.80V203.65H294.40V201.79H295.00V201.39H295.60V202.99H296.20V208.21H296.80V209.38H297.40V205.48H298.00V205.95H298.60V214.18H299.20V210.31H299.80V214.18H300.40V216.89H301.00V213.77H301.60V215.86H302.20V215.38H302.80V222.54H303.40V221.17H304.00V224.80H304.60V221.63H305.20V227.59H305.80V226.21H306.40V229.36H307.00V229.00H307.60V232.92H308.20V236.48H308.80V236.49H309.40V238.32H310.00V241.41H310.60V241.70H311.20V244.75H311.80V245.75H312.40V248.70H313.00V248.36H313.60V250.94H314.20V252.68H314.80V256.29H315.40V256.05H316.00V254.99H316.60V255.82H317.20V258.36H317.80V258.89H318.40V259.32H319.00V260.69H319.60V263.26H320.20V261.26H320.80V264.60H321.40V264.85H322.00V267.42H322.60V264.60H323.20V267.50H323.80V267.49H324.40V268.43H325.00V269.40H325.60V271.39H326.20V270.59H326.80V271.33H327.40V270.34H328.00V272.66H328.60V271.55H329.20V272.89H329.80V273.72H330.40V274.81H331.00V274.88H331.60V274.74H332.20V275.54H332.80V275.25H333.40V275.83H334.00V276.14H334.60V277.02H335.20V276.65H335.80V276.48H336.40V276.63H337.00V278.62H337.60V276.70H338.20V277.86H338.80V278.02H339.40V278.25H340.00V278.18H340.60V278.98H341.20V278.95H341.80V278.71H342.40V279.05H343.00V278.92H343.60V279.55H344.20V280.11H344.80V280.10H345.40V280.06H346.00V281.5Z" fill="#3790a8"/>
<rect x="214.60" y="279.78" width="0.65" height="1.72" fill="#2272a6" opacity="0.50"/>
<rect x="215.80" y="280.25" width="0.65" height="1.75" fill="#b0e6e0" opacity="0.94"/>
<rect x="216.40" y="280.04" width="0.65" height="1.96" fill="#b0e6e0" opacity="0.94"/>
<rect x="218.20" y="279.38" width="0.65" height="2.12" fill="#2272a6" opacity="0.63"/>
<rect x="220.00" y="279.02" width="0.65" height="2.98" fill="#b0e6e0" opacity="0.97"/>
<rect x="221.80" y="277.47" width="0.65" height="4.03" fill="#2272a6" opacity="0.55"/>
<rect x="223.60" y="277.64" width="0.65" height="4.36" fill="#b0e6e0" opacity="0.85"/>
<rect x="225.40" y="276.17" width="0.65" height="5.33" fill="#2272a6" opacity="0.68"/>
<rect x="226.60" y="277.04" width="0.65" height="4.96" fill="#b0e6e0" opacity="0.93"/>
<rect x="227.20" y="274.80" width="0.65" height="7.20" fill="#b0e6e0" opacity="0.93"/>
<rect x="228.40" y="274.58" width="0.65" height="6.92" fill="#2272a6" opacity="0.53"/>
<rect x="230.20" y="273.59" width="0.65" height="8.41" fill="#b0e6e0" opacity="0.92"/>
<rect x="230.80" y="272.10" width="0.65" height="9.90" fill="#b0e6e0" opacity="0.92"/>
<rect x="232.00" y="271.50" width="0.65" height="10.00" fill="#2272a6" opacity="0.74"/>
<rect x="232.60" y="273.80" width="0.65" height="7.70" fill="#2272a6" opacity="0.74"/>
<rect x="234.40" y="269.79" width="0.65" height="12.21" fill="#b0e6e0" opacity="0.97"/>
<rect x="235.00" y="267.98" width="0.65" height="14.02" fill="#b0e6e0" opacity="0.97"/>
<rect x="235.60" y="268.67" width="0.65" height="12.83" fill="#2272a6" opacity="0.80"/>
<rect x="237.40" y="267.12" width="0.65" height="14.88" fill="#b0e6e0" opacity="0.75"/>
<rect x="238.00" y="265.83" width="0.65" height="16.17" fill="#b0e6e0" opacity="0.75"/>
<rect x="239.20" y="265.26" width="0.65" height="16.24" fill="#2272a6" opacity="0.53"/>
<rect x="239.80" y="262.55" width="0.65" height="18.95" fill="#2272a6" opacity="0.53"/>
<rect x="241.60" y="260.62" width="0.65" height="21.38" fill="#b0e6e0" opacity="0.99"/>
<rect x="242.20" y="259.31" width="0.65" height="22.69" fill="#b0e6e0" opacity="0.99"/>
<rect x="242.80" y="258.95" width="0.65" height="22.55" fill="#2272a6" opacity="0.50"/>
<rect x="243.40" y="258.42" width="0.65" height="23.08" fill="#2272a6" opacity="0.50"/>
<rect x="245.20" y="254.22" width="0.65" height="27.78" fill="#b0e6e0" opacity="0.94"/>
<rect x="245.80" y="251.37" width="0.65" height="30.63" fill="#b0e6e0" opacity="0.94"/>
<rect x="246.40" y="250.02" width="0.65" height="31.48" fill="#2272a6" opacity="0.77"/>
<rect x="247.00" y="250.38" width="0.65" height="31.12" fill="#2272a6" opacity="0.77"/>
<rect x="248.80" y="242.90" width="0.65" height="39.10" fill="#b0e6e0" opacity="0.82"/>
<rect x="250.00" y="238.71" width="0.65" height="42.79" fill="#2272a6" opacity="0.80"/>
<rect x="250.60" y="238.83" width="0.65" height="42.67" fill="#2272a6" opacity="0.80"/>
<rect x="251.80" y="233.33" width="0.65" height="48.67" fill="#b0e6e0" opacity="0.84"/>
<rect x="253.60" y="227.60" width="0.65" height="53.90" fill="#2272a6" opacity="0.82"/>
<rect x="255.40" y="223.45" width="0.65" height="58.55" fill="#b0e6e0" opacity="0.87"/>
<rect x="257.20" y="216.17" width="0.65" height="65.33" fill="#2272a6" opacity="0.81"/>
<rect x="259.60" y="213.69" width="0.65" height="68.31" fill="#b0e6e0" opacity="0.91"/>
<rect x="260.20" y="212.61" width="0.65" height="69.39" fill="#b0e6e0" opacity="0.91"/>
<rect x="263.80" y="205.77" width="0.65" height="76.23" fill="#b0e6e0" opacity="0.84"/>
<rect x="264.40" y="202.08" width="0.65" height="79.92" fill="#b0e6e0" opacity="0.84"/>
<rect x="265.60" y="199.58" width="0.65" height="81.92" fill="#2272a6" opacity="0.66"/>
<rect x="268.00" y="194.19" width="0.65" height="87.81" fill="#b0e6e0" opacity="0.89"/>
<rect x="269.20" y="191.22" width="0.65" height="90.28" fill="#2272a6" opacity="0.76"/>
<rect x="269.80" y="189.64" width="0.65" height="91.86" fill="#2272a6" opacity="0.76"/>
<rect x="271.60" y="188.60" width="0.65" height="93.40" fill="#b0e6e0" opacity="0.98"/>
<rect x="272.20" y="188.01" width="0.65" height="93.99" fill="#b0e6e0" opacity="0.98"/>
<rect x="273.40" y="182.15" width="0.65" height="99.35" fill="#2272a6" opacity="0.64"/>
<rect x="274.00" y="180.25" width="0.65" height="101.25" fill="#2272a6" opacity="0.64"/>
<rect x="275.20" y="184.13" width="0.65" height="97.87" fill="#b0e6e0" opacity="0.71"/>
<rect x="275.80" y="184.68" width="0.65" height="97.32" fill="#b0e6e0" opacity="0.71"/>
<rect x="276.40" y="181.34" width="0.65" height="100.16" fill="#2272a6" opacity="0.92"/>
<rect x="277.00" y="182.40" width="0.65" height="99.10" fill="#2272a6" opacity="0.92"/>
<rect x="278.80" y="181.70" width="0.65" height="100.30" fill="#b0e6e0" opacity="0.87"/>
<rect x="280.60" y="177.28" width="0.65" height="104.22" fill="#2272a6" opacity="0.77"/>
<rect x="281.20" y="176.69" width="0.65" height="104.81" fill="#2272a6" opacity="0.77"/>
<rect x="282.40" y="180.03" width="0.65" height="101.97" fill="#b0e6e0" opacity="0.82"/>
<rect x="283.00" y="182.69" width="0.65" height="99.31" fill="#b0e6e0" opacity="0.82"/>
<rect x="286.60" y="180.93" width="0.65" height="101.07" fill="#b0e6e0" opacity="0.82"/>
<rect x="287.20" y="188.70" width="0.65" height="93.30" fill="#b0e6e0" opacity="0.82"/>
<rect x="290.20" y="193.10" width="0.65" height="88.90" fill="#b0e6e0" opacity="0.81"/>
<rect x="291.40" y="192.78" width="0.65" height="88.72" fill="#2272a6" opacity="0.46"/>
<rect x="293.20" y="198.59" width="0.65" height="83.41" fill="#b0e6e0" opacity="0.91"/>
<rect x="294.40" y="201.79" width="0.65" height="79.71" fill="#2272a6" opacity="0.82"/>
<rect x="296.80" y="209.88" width="0.65" height="72.12" fill="#b0e6e0" opacity="0.77"/>
<rect x="301.00" y="214.27" width="0.65" height="67.73" fill="#b0e6e0" opacity="0.74"/>
<rect x="304.60" y="222.13" width="0.65" height="59.87" fill="#b0e6e0" opacity="0.84"/>
<rect x="305.80" y="226.21" width="0.65" height="55.29" fill="#2272a6" opacity="0.63"/>
<rect x="306.40" y="229.36" width="0.65" height="52.14" fill="#2272a6" opacity="0.63"/>
<rect x="308.80" y="236.99" width="0.65" height="45.01" fill="#b0e6e0" opacity="0.94"/>
<rect x="310.00" y="241.41" width="0.65" height="40.09" fill="#2272a6" opacity="0.51"/>
<rect x="310.60" y="241.70" width="0.65" height="39.80" fill="#2272a6" opacity="0.51"/>
<rect x="312.40" y="249.20" width="0.65" height="32.80" fill="#b0e6e0" opacity="0.96"/>
<rect x="314.20" y="252.68" width="0.65" height="28.82" fill="#2272a6" opacity="0.66"/>
<rect x="316.60" y="256.32" width="0.65" height="25.68" fill="#b0e6e0" opacity="0.92"/>
<rect x="317.80" y="258.89" width="0.65" height="22.61" fill="#2272a6" opacity="0.69"/>
<rect x="319.60" y="263.76" width="0.65" height="18.24" fill="#b0e6e0" opacity="0.90"/>
<rect x="320.20" y="261.76" width="0.65" height="20.24" fill="#b0e6e0" opacity="0.90"/>
<rect x="322.00" y="267.42" width="0.65" height="14.08" fill="#2272a6" opacity="0.48"/>
<rect x="322.60" y="264.60" width="0.65" height="16.90" fill="#2272a6" opacity="0.48"/>
<rect x="323.20" y="268.00" width="0.65" height="14.00" fill="#b0e6e0" opacity="0.94"/>
<rect x="323.80" y="267.99" width="0.65" height="14.01" fill="#b0e6e0" opacity="0.94"/>
<rect x="325.60" y="271.39" width="0.65" height="10.11" fill="#2272a6" opacity="0.46"/>
<rect x="326.20" y="270.59" width="0.65" height="10.91" fill="#2272a6" opacity="0.46"/>
<rect x="327.40" y="270.84" width="0.65" height="11.16" fill="#b0e6e0" opacity="0.90"/>
<rect x="328.00" y="273.16" width="0.65" height="8.84" fill="#b0e6e0" opacity="0.90"/>
<rect x="328.60" y="271.55" width="0.65" height="9.95" fill="#2272a6" opacity="0.57"/>
<rect x="330.40" y="275.31" width="0.65" height="6.69" fill="#b0e6e0" opacity="0.75"/>
<rect x="334.60" y="277.52" width="0.65" height="4.48" fill="#b0e6e0" opacity="0.97"/>
<rect x="336.40" y="276.63" width="0.65" height="4.87" fill="#2272a6" opacity="0.90"/>
<rect x="337.00" y="278.62" width="0.65" height="2.88" fill="#2272a6" opacity="0.90"/>
<rect x="338.20" y="278.36" width="0.65" height="3.64" fill="#b0e6e0" opacity="0.76"/>
<rect x="338.80" y="278.52" width="0.65" height="3.48" fill="#b0e6e0" opacity="0.76"/>
<rect x="340.60" y="278.98" width="0.65" height="2.52" fill="#2272a6" opacity="0.67"/>
<rect x="342.40" y="279.55" width="0.65" height="2.45" fill="#b0e6e0" opacity="0.78"/>
<rect x="343.00" y="279.42" width="0.65" height="2.58" fill="#b0e6e0" opacity="0.78"/>
<rect x="344.20" y="280.11" width="0.65" height="1.39" fill="#2272a6" opacity="0.48"/>
</g>
<rect x="202.79999999999998" y="280.2" width="153.70000000000002" height="8.6" fill="url(#g)"/>
<path d="M203.2 280.2V158.4H357.1V288.8" fill="none" stroke="#959595" stroke-width="0.9"/>
<rect x="264.40" y="158.4" width="0.8" height="1.3" fill="#959595"/>
<rect x="264.40" y="279.0" width="0.8" height="1.3" fill="#959595" opacity="0.7"/>
<rect x="325.20" y="158.4" width="0.8" height="1.3" fill="#959595"/>
<rect x="325.20" y="279.0" width="0.8" height="1.3" fill="#959595" opacity="0.7"/>
<rect x="203.2" y="253.60" width="1.6" height="0.8" fill="#959595"/>
<rect x="355.5" y="253.60" width="1.6" height="0.8" fill="#959595"/>
<rect x="203.2" y="227.10" width="1.6" height="0.8" fill="#959595"/>
<rect x="355.5" y="227.10" width="1.6" height="0.8" fill="#959595"/>
<rect x="203.2" y="200.60" width="1.6" height="0.8" fill="#959595"/>
<rect x="355.5" y="200.60" width="1.6" height="0.8" fill="#959595"/>
<rect x="203.2" y="174.10" width="1.6" height="0.8" fill="#959595"/>
<rect x="355.5" y="174.10" width="1.6" height="0.8" fill="#959595"/>
<text letter-spacing="0.3" x="199.0" y="177.99" text-anchor="end" font-family="'DejaVu Sans', sans-serif" font-size="9.3" fill="#222">800</text>
<text letter-spacing="0.3" x="199.0" y="204.99" text-anchor="end" font-family="'DejaVu Sans', sans-serif" font-size="9.3" fill="#222">600</text>
<text letter-spacing="0.3" x="199.0" y="231.49" text-anchor="end" font-family="'DejaVu Sans', sans-serif" font-size="9.3" fill="#222">400</text>
<text letter-spacing="0.3" x="199.0" y="257.99" text-anchor="end" font-family="'DejaVu Sans', sans-serif" font-size="9.3" fill="#222">200</text>
<text letter-spacing="0.3" x="199.0" y="284.49" text-anchor="end" font-family="'DejaVu Sans', sans-serif" font-size="9.3" fill="#222">0</text>
<text x="204.4" y="296.94" text-anchor="middle" font-family="'Liberation Serif', serif" font-size="9.3" fill="#2a2a2a" stroke="#2a2a2a" stroke-width="0.12">0</text>
<text x="235" y="298.04" text-anchor="middle" font-family="'Liberation Serif', serif" font-size="9.3" fill="#2a2a2a" stroke="#2a2a2a" stroke-width="0.12">50</text>
<text x="264.8" y="298.04" text-anchor="middle" font-family="'Liberation Serif', serif" font-size="9.3" fill="#2a2a2a" stroke="#2a2a2a" stroke-width="0.12">100</text>
<text x="294.2" y="298.04" text-anchor="middle" font-family="'Liberation Serif', serif" font-size="9.3" fill="#2a2a2a" stroke="#2a2a2a" stroke-width="0.12">150</text>
<text x="325.1" y="298.04" text-anchor="middle" font-family="'Liberation Serif', serif" font-size="9.3" fill="#2a2a2a" stroke="#2a2a2a" stroke-width="0.12">200</text>
<text x="356" y="298.04" text-anchor="middle" font-family="'Liberation Serif', serif" font-size="9.3" fill="#2a2a2a" stroke="#2a2a2a" stroke-width="0.12">250</text>
<text x="272.5" y="310.79" text-anchor="middle" font-family="'Liberation Sans', sans-serif" font-weight="bold" font-size="8.3" fill="#111" stroke="#111" stroke-width="0.3">(e)</text>
<clipPath id="cf"><rect x="384" y="157.3" width="159.20000000000005" height="120.89999999999998"/></clipPath>
<g clip-path="url(#cf)">
<path d="M402.60 278.2V276.89H403.22V276.50H403.84V276.73H404.46V276.20H405.08V275.37H405.70V275.88H406.32V276.14H406.94V275.42H407.56V274.71H408.18V274.36H408.80V274.61H409.42V273.53H410.04V272.82H410.66V273.15H411.28V272.61H411.90V271.58H412.52V270.80H413.14V271.18H413.76V268.90H414.38V269.08H415.00V268.46H415.62V269.71H416.24V266.47H416.86V267.18H417.48V265.53H418.10V266.00H418.72V265.40H419.34V262.67H419.96V262.19H420.58V259.88H421.20V259.42H421.82V259.70H422.44V256.06H423.06V255.50H423.68V255.37H424.30V253.69H424.92V252.34H425.54V248.58H426.16V249.97H426.78V249.13H427.40V248.02H428.02V247.03H428.64V246.97H429.26V247.83H429.88V241.12H430.50V240.13H431.12V241.32H431.74V235.20H432.36V235.70H432.98V234.55H433.60V232.75H434.22V231.22H434.84V229.45H435.46V228.69H436.08V229.60H436.70V230.35H437.32V222.48H437.94V225.30H438.56V223.92H439.18V222.12H439.80V223.47H440.42V219.13H441.04V219.54H441.66V213.48H442.28V210.75H442.90V215.36H443.52V211.37H444.14V206.20H444.76V207.63H445.38V208.36H446.00V202.96H446.62V204.50H447.24V198.84H447.86V202.29H448.48V200.24H449.10V197.83H449.72V196.27H450.34V195.44H450.96V198.11H451.58V196.76H452.20V187.08H452.82V188.64H453.44V189.98H454.06V189.65H454.68V185.86H455.30V190.21H455.92V194.22H456.54V183.41H457.16V182.92H457.78V185.61H458.40V187.88H459.02V186.62H459.64V184.21H460.26V185.08H460.88V183.54H461.50V183.11H462.12V182.39H462.74V181.61H463.36V184.12H463.98V182.77H464.60V184.19H465.22V182.32H465.84V188.13H466.46V184.54H467.08V184.68H467.70V189.46H468.32V185.82H468.94V186.91H469.56V187.41H470.18V183.19H470.80V190.99H471.42V185.64H472.04V193.29H472.66V192.87H473.28V191.19H473.90V190.14H474.52V195.93H475.14V194.40H475.76V200.45H476.38V196.71H477.00V199.33H477.62V200.21H478.24V198.79H478.86V199.12H479.48V206.13H480.10V206.68H480.72V206.91H481.34V207.11H481.96V211.78H482.58V209.43H483.20V215.08H483.82V215.33H484.44V213.87H485.06V216.48H485.68V218.55H486.30V219.54H486.92V222.76H487.54V221.77H488.16V223.41H488.78V224.44H489.40V226.50H490.02V230.71H490.64V232.29H491.26V228.16H491.88V234.68H492.50V233.23H493.12V236.84H493.74V239.02H494.36V242.51H494.98V240.70H495.60V243.19H496.22V242.45H496.84V241.50H497.46V243.58H498.08V248.59H498.70V246.92H499.32V249.34H499.94V252.53H500.56V253.37H501.18V252.65H501.80V254.02H502.42V254.29H503.04V258.99H503.66V256.86H504.28V259.34H504.90V260.50H505.52V261.37H506.14V263.64H506.76V261.77H507.38V263.41H508.00V265.53H508.62V265.99H509.24V267.85H509.86V266.39H510.48V269.30H511.10V268.49H511.72V269.73H512.34V272.04H512.96V271.59H513.58V270.83H514.20V272.83H514.82V272.54H515.44V273.92H516.06V274.08H516.68V274.23H517.30V274.20H517.92V274.85H518.54V274.20H519.16V275.50H519.78V276.19H520.40V275.78H521.02V275.86H521.64V276.40H522.26V276.69H522.88V276.67H523.50V276.48H524.12V278.2Z" fill="#3790a8"/>
<rect x="402.60" y="277.39" width="0.67" height="1.31" fill="#b0e6e0" opacity="0.87"/>
<rect x="404.46" y="276.20" width="0.67" height="2.00" fill="#2272a6" opacity="0.92"/>
<rect x="406.32" y="276.64" width="0.67" height="2.06" fill="#b0e6e0" opacity="0.99"/>
<rect x="406.94" y="275.92" width="0.67" height="2.78" fill="#b0e6e0" opacity="0.99"/>
<rect x="407.56" y="274.71" width="0.67" height="3.49" fill="#2272a6" opacity="0.54"/>
<rect x="410.66" y="273.65" width="0.67" height="5.05" fill="#b0e6e0" opacity="0.87"/>
<rect x="413.14" y="271.68" width="0.67" height="7.02" fill="#b0e6e0" opacity="0.97"/>
<rect x="413.76" y="269.40" width="0.67" height="9.30" fill="#b0e6e0" opacity="0.97"/>
<rect x="415.00" y="268.46" width="0.67" height="9.74" fill="#2272a6" opacity="0.51"/>
<rect x="415.62" y="269.71" width="0.67" height="8.49" fill="#2272a6" opacity="0.51"/>
<rect x="416.86" y="267.68" width="0.67" height="11.02" fill="#b0e6e0" opacity="0.87"/>
<rect x="417.48" y="266.03" width="0.67" height="12.67" fill="#b0e6e0" opacity="0.87"/>
<rect x="419.34" y="262.67" width="0.67" height="15.53" fill="#2272a6" opacity="0.65"/>
<rect x="419.96" y="262.19" width="0.67" height="16.01" fill="#2272a6" opacity="0.65"/>
<rect x="421.20" y="259.92" width="0.67" height="18.78" fill="#b0e6e0" opacity="0.99"/>
<rect x="424.92" y="252.84" width="0.67" height="25.86" fill="#b0e6e0" opacity="0.78"/>
<rect x="426.78" y="249.13" width="0.67" height="29.07" fill="#2272a6" opacity="0.87"/>
<rect x="427.40" y="248.02" width="0.67" height="30.18" fill="#2272a6" opacity="0.87"/>
<rect x="428.02" y="247.53" width="0.67" height="31.17" fill="#b0e6e0" opacity="0.91"/>
<rect x="428.64" y="247.47" width="0.67" height="31.23" fill="#b0e6e0" opacity="0.91"/>
<rect x="429.88" y="241.12" width="0.67" height="37.08" fill="#2272a6" opacity="0.52"/>
<rect x="431.12" y="241.82" width="0.67" height="36.88" fill="#b0e6e0" opacity="0.90"/>
<rect x="431.74" y="235.70" width="0.67" height="43.00" fill="#b0e6e0" opacity="0.90"/>
<rect x="432.98" y="234.55" width="0.67" height="43.65" fill="#2272a6" opacity="0.50"/>
<rect x="433.60" y="232.75" width="0.67" height="45.45" fill="#2272a6" opacity="0.50"/>
<rect x="434.84" y="229.95" width="0.67" height="48.75" fill="#b0e6e0" opacity="0.74"/>
<rect x="435.46" y="229.19" width="0.67" height="49.51" fill="#b0e6e0" opacity="0.74"/>
<rect x="436.08" y="229.60" width="0.67" height="48.60" fill="#2272a6" opacity="0.52"/>
<rect x="436.70" y="230.35" width="0.67" height="47.85" fill="#2272a6" opacity="0.52"/>
<rect x="438.56" y="224.42" width="0.67" height="54.28" fill="#b0e6e0" opacity="0.92"/>
<rect x="439.80" y="223.47" width="0.67" height="54.73" fill="#2272a6" opacity="0.56"/>
<rect x="440.42" y="219.13" width="0.67" height="59.07" fill="#2272a6" opacity="0.56"/>
<rect x="442.28" y="211.25" width="0.67" height="67.45" fill="#b0e6e0" opacity="0.97"/>
<rect x="442.90" y="215.86" width="0.67" height="62.84" fill="#b0e6e0" opacity="0.97"/>
<rect x="444.14" y="206.20" width="0.67" height="72.00" fill="#2272a6" opacity="0.91"/>
<rect x="446.62" y="205.00" width="0.67" height="73.70" fill="#b0e6e0" opacity="0.84"/>
<rect x="447.24" y="199.34" width="0.67" height="79.36" fill="#b0e6e0" opacity="0.84"/>
<rect x="449.10" y="197.83" width="0.67" height="80.37" fill="#2272a6" opacity="0.76"/>
<rect x="450.96" y="198.61" width="0.67" height="80.09" fill="#b0e6e0" opacity="0.72"/>
<rect x="452.20" y="187.08" width="0.67" height="91.12" fill="#2272a6" opacity="0.89"/>
<rect x="454.06" y="190.15" width="0.67" height="88.55" fill="#b0e6e0" opacity="0.75"/>
<rect x="455.92" y="194.22" width="0.67" height="83.98" fill="#2272a6" opacity="0.53"/>
<rect x="457.16" y="183.42" width="0.67" height="95.28" fill="#b0e6e0" opacity="0.97"/>
<rect x="457.78" y="186.11" width="0.67" height="92.59" fill="#b0e6e0" opacity="0.97"/>
<rect x="459.64" y="184.21" width="0.67" height="93.99" fill="#2272a6" opacity="0.90"/>
<rect x="460.88" y="184.04" width="0.67" height="94.66" fill="#b0e6e0" opacity="0.84"/>
<rect x="462.74" y="181.61" width="0.67" height="96.59" fill="#2272a6" opacity="0.63"/>
<rect x="464.60" y="184.69" width="0.67" height="94.01" fill="#b0e6e0" opacity="0.98"/>
<rect x="465.22" y="182.82" width="0.67" height="95.88" fill="#b0e6e0" opacity="0.98"/>
<rect x="466.46" y="184.54" width="0.67" height="93.66" fill="#2272a6" opacity="0.48"/>
<rect x="467.08" y="184.68" width="0.67" height="93.52" fill="#2272a6" opacity="0.48"/>
<rect x="468.94" y="187.41" width="0.67" height="91.29" fill="#b0e6e0" opacity="0.99"/>
<rect x="469.56" y="187.91" width="0.67" height="90.79" fill="#b0e6e0" opacity="0.99"/>
<rect x="471.42" y="185.64" width="0.67" height="92.56" fill="#2272a6" opacity="0.52"/>
<rect x="473.28" y="191.69" width="0.67" height="87.01" fill="#b0e6e0" opacity="0.86"/>
<rect x="473.90" y="190.64" width="0.67" height="88.06" fill="#b0e6e0" opacity="0.86"/>
<rect x="474.52" y="195.93" width="0.67" height="82.27" fill="#2272a6" opacity="0.56"/>
<rect x="475.14" y="194.40" width="0.67" height="83.80" fill="#2272a6" opacity="0.56"/>
<rect x="476.38" y="197.21" width="0.67" height="81.49" fill="#b0e6e0" opacity="0.75"/>
<rect x="480.10" y="207.18" width="0.67" height="71.52" fill="#b0e6e0" opacity="0.72"/>
<rect x="481.96" y="211.78" width="0.67" height="66.42" fill="#2272a6" opacity="0.59"/>
<rect x="483.82" y="215.83" width="0.67" height="62.87" fill="#b0e6e0" opacity="0.91"/>
<rect x="484.44" y="214.37" width="0.67" height="64.33" fill="#b0e6e0" opacity="0.91"/>
<rect x="486.92" y="223.26" width="0.67" height="55.44" fill="#b0e6e0" opacity="0.72"/>
<rect x="487.54" y="222.27" width="0.67" height="56.43" fill="#b0e6e0" opacity="0.72"/>
<rect x="488.78" y="224.44" width="0.67" height="53.76" fill="#2272a6" opacity="0.48"/>
<rect x="489.40" y="226.50" width="0.67" height="51.70" fill="#2272a6" opacity="0.48"/>
<rect x="490.64" y="232.79" width="0.67" height="45.91" fill="#b0e6e0" opacity="0.95"/>
<rect x="491.26" y="228.66" width="0.67" height="50.04" fill="#b0e6e0" opacity="0.95"/>
<rect x="494.98" y="241.20" width="0.67" height="37.50" fill="#b0e6e0" opacity="0.97"/>
<rect x="496.84" y="241.50" width="0.67" height="36.70" fill="#2272a6" opacity="0.54"/>
<rect x="497.46" y="243.58" width="0.67" height="34.62" fill="#2272a6" opacity="0.54"/>
<rect x="498.70" y="247.42" width="0.67" height="31.28" fill="#b0e6e0" opacity="0.75"/>
<rect x="500.56" y="253.37" width="0.67" height="24.83" fill="#2272a6" opacity="0.71"/>
<rect x="503.04" y="259.49" width="0.67" height="19.21" fill="#b0e6e0" opacity="0.74"/>
<rect x="504.90" y="260.50" width="0.67" height="17.70" fill="#2272a6" opacity="0.61"/>
<rect x="505.52" y="261.37" width="0.67" height="16.83" fill="#2272a6" opacity="0.61"/>
<rect x="506.14" y="264.14" width="0.67" height="14.56" fill="#b0e6e0" opacity="0.93"/>
<rect x="506.76" y="262.27" width="0.67" height="16.43" fill="#b0e6e0" opacity="0.93"/>
<rect x="508.62" y="265.99" width="0.67" height="12.21" fill="#2272a6" opacity="0.70"/>
<rect x="509.24" y="267.85" width="0.67" height="10.35" fill="#2272a6" opacity="0.70"/>
<rect x="510.48" y="269.80" width="0.67" height="8.90" fill="#b0e6e0" opacity="0.86"/>
<rect x="512.34" y="272.04" width="0.67" height="6.16" fill="#2272a6" opacity="0.54"/>
<rect x="514.20" y="273.33" width="0.67" height="5.37" fill="#b0e6e0" opacity="0.95"/>
<rect x="514.82" y="272.54" width="0.67" height="5.66" fill="#2272a6" opacity="0.55"/>
<rect x="515.44" y="273.92" width="0.67" height="4.28" fill="#2272a6" opacity="0.55"/>
<rect x="517.30" y="274.70" width="0.67" height="4.00" fill="#b0e6e0" opacity="0.87"/>
<rect x="518.54" y="274.20" width="0.67" height="4.00" fill="#2272a6" opacity="0.88"/>
<rect x="519.78" y="276.69" width="0.67" height="2.01" fill="#b0e6e0" opacity="0.74"/>
<rect x="521.64" y="276.40" width="0.67" height="1.80" fill="#2272a6" opacity="0.51"/>
</g>
<rect x="383.6" y="276.9" width="159.00000000000003" height="8.6" fill="url(#g)"/>
<path d="M384 276.9V157.3H543.2V285.5" fill="none" stroke="#959595" stroke-width="0.9"/>
<rect x="446.90" y="157.3" width="0.8" height="1.3" fill="#959595"/>
<rect x="446.90" y="275.7" width="0.8" height="1.3" fill="#959595" opacity="0.7"/>
<rect x="509.20" y="157.3" width="0.8" height="1.3" fill="#959595"/>
<rect x="509.20" y="275.7" width="0.8" height="1.3" fill="#959595" opacity="0.7"/>
<rect x="384" y="250.90" width="1.6" height="0.8" fill="#959595"/>
<rect x="541.6" y="250.90" width="1.6" height="0.8" fill="#959595"/>
<rect x="384" y="224.60" width="1.6" height="0.8" fill="#959595"/>
<rect x="541.6" y="224.60" width="1.6" height="0.8" fill="#959595"/>
<rect x="384" y="198.30" width="1.6" height="0.8" fill="#959595"/>
<rect x="541.6" y="198.30" width="1.6" height="0.8" fill="#959595"/>
<rect x="384" y="172.00" width="1.6" height="0.8" fill="#959595"/>
<rect x="541.6" y="172.00" width="1.6" height="0.8" fill="#959595"/>
<text letter-spacing="0.3" x="379.8" y="175.79" text-anchor="end" font-family="'DejaVu Sans', sans-serif" font-size="9.3" fill="#222">800</text>
<text letter-spacing="0.3" x="379.8" y="202.09" text-anchor="end" font-family="'DejaVu Sans', sans-serif" font-size="9.3" fill="#222">600</text>
<text letter-spacing="0.3" x="379.8" y="228.39" text-anchor="end" font-family="'DejaVu Sans', sans-serif" font-size="9.3" fill="#222">400</text>
<text letter-spacing="0.3" x="379.8" y="254.69" text-anchor="end" font-family="'DejaVu Sans', sans-serif" font-size="9.3" fill="#222">200</text>
<text letter-spacing="0.3" x="379.8" y="281.19" text-anchor="end" font-family="'DejaVu Sans', sans-serif" font-size="9.3" fill="#222">0</text>
<text x="385" y="293.34" text-anchor="middle" font-family="'Liberation Serif', serif" font-size="9.3" fill="#2a2a2a" stroke="#2a2a2a" stroke-width="0.12">0</text>
<text x="416.9" y="294.54" text-anchor="middle" font-family="'Liberation Serif', serif" font-size="9.3" fill="#2a2a2a" stroke="#2a2a2a" stroke-width="0.12">50</text>
<text x="446.8" y="294.54" text-anchor="middle" font-family="'Liberation Serif', serif" font-size="9.3" fill="#2a2a2a" stroke="#2a2a2a" stroke-width="0.12">100</text>
<text x="477.6" y="294.54" text-anchor="middle" font-family="'Liberation Serif', serif" font-size="9.3" fill="#2a2a2a" stroke="#2a2a2a" stroke-width="0.12">150</text>
<text x="509.5" y="294.54" text-anchor="middle" font-family="'Liberation Serif', serif" font-size="9.3" fill="#2a2a2a" stroke="#2a2a2a" stroke-width="0.12">200</text>
<text x="541" y="294.54" text-anchor="middle" font-family="'Liberation Serif', serif" font-size="9.3" fill="#2a2a2a" stroke="#2a2a2a" stroke-width="0.12">250</text>
<text x="460.4" y="305.69" text-anchor="middle" font-family="'Liberation Sans', sans-serif" font-weight="bold" font-size="8.3" fill="#111" stroke="#111" stroke-width="0.3">(f)</text>
</svg>
</body></html>
